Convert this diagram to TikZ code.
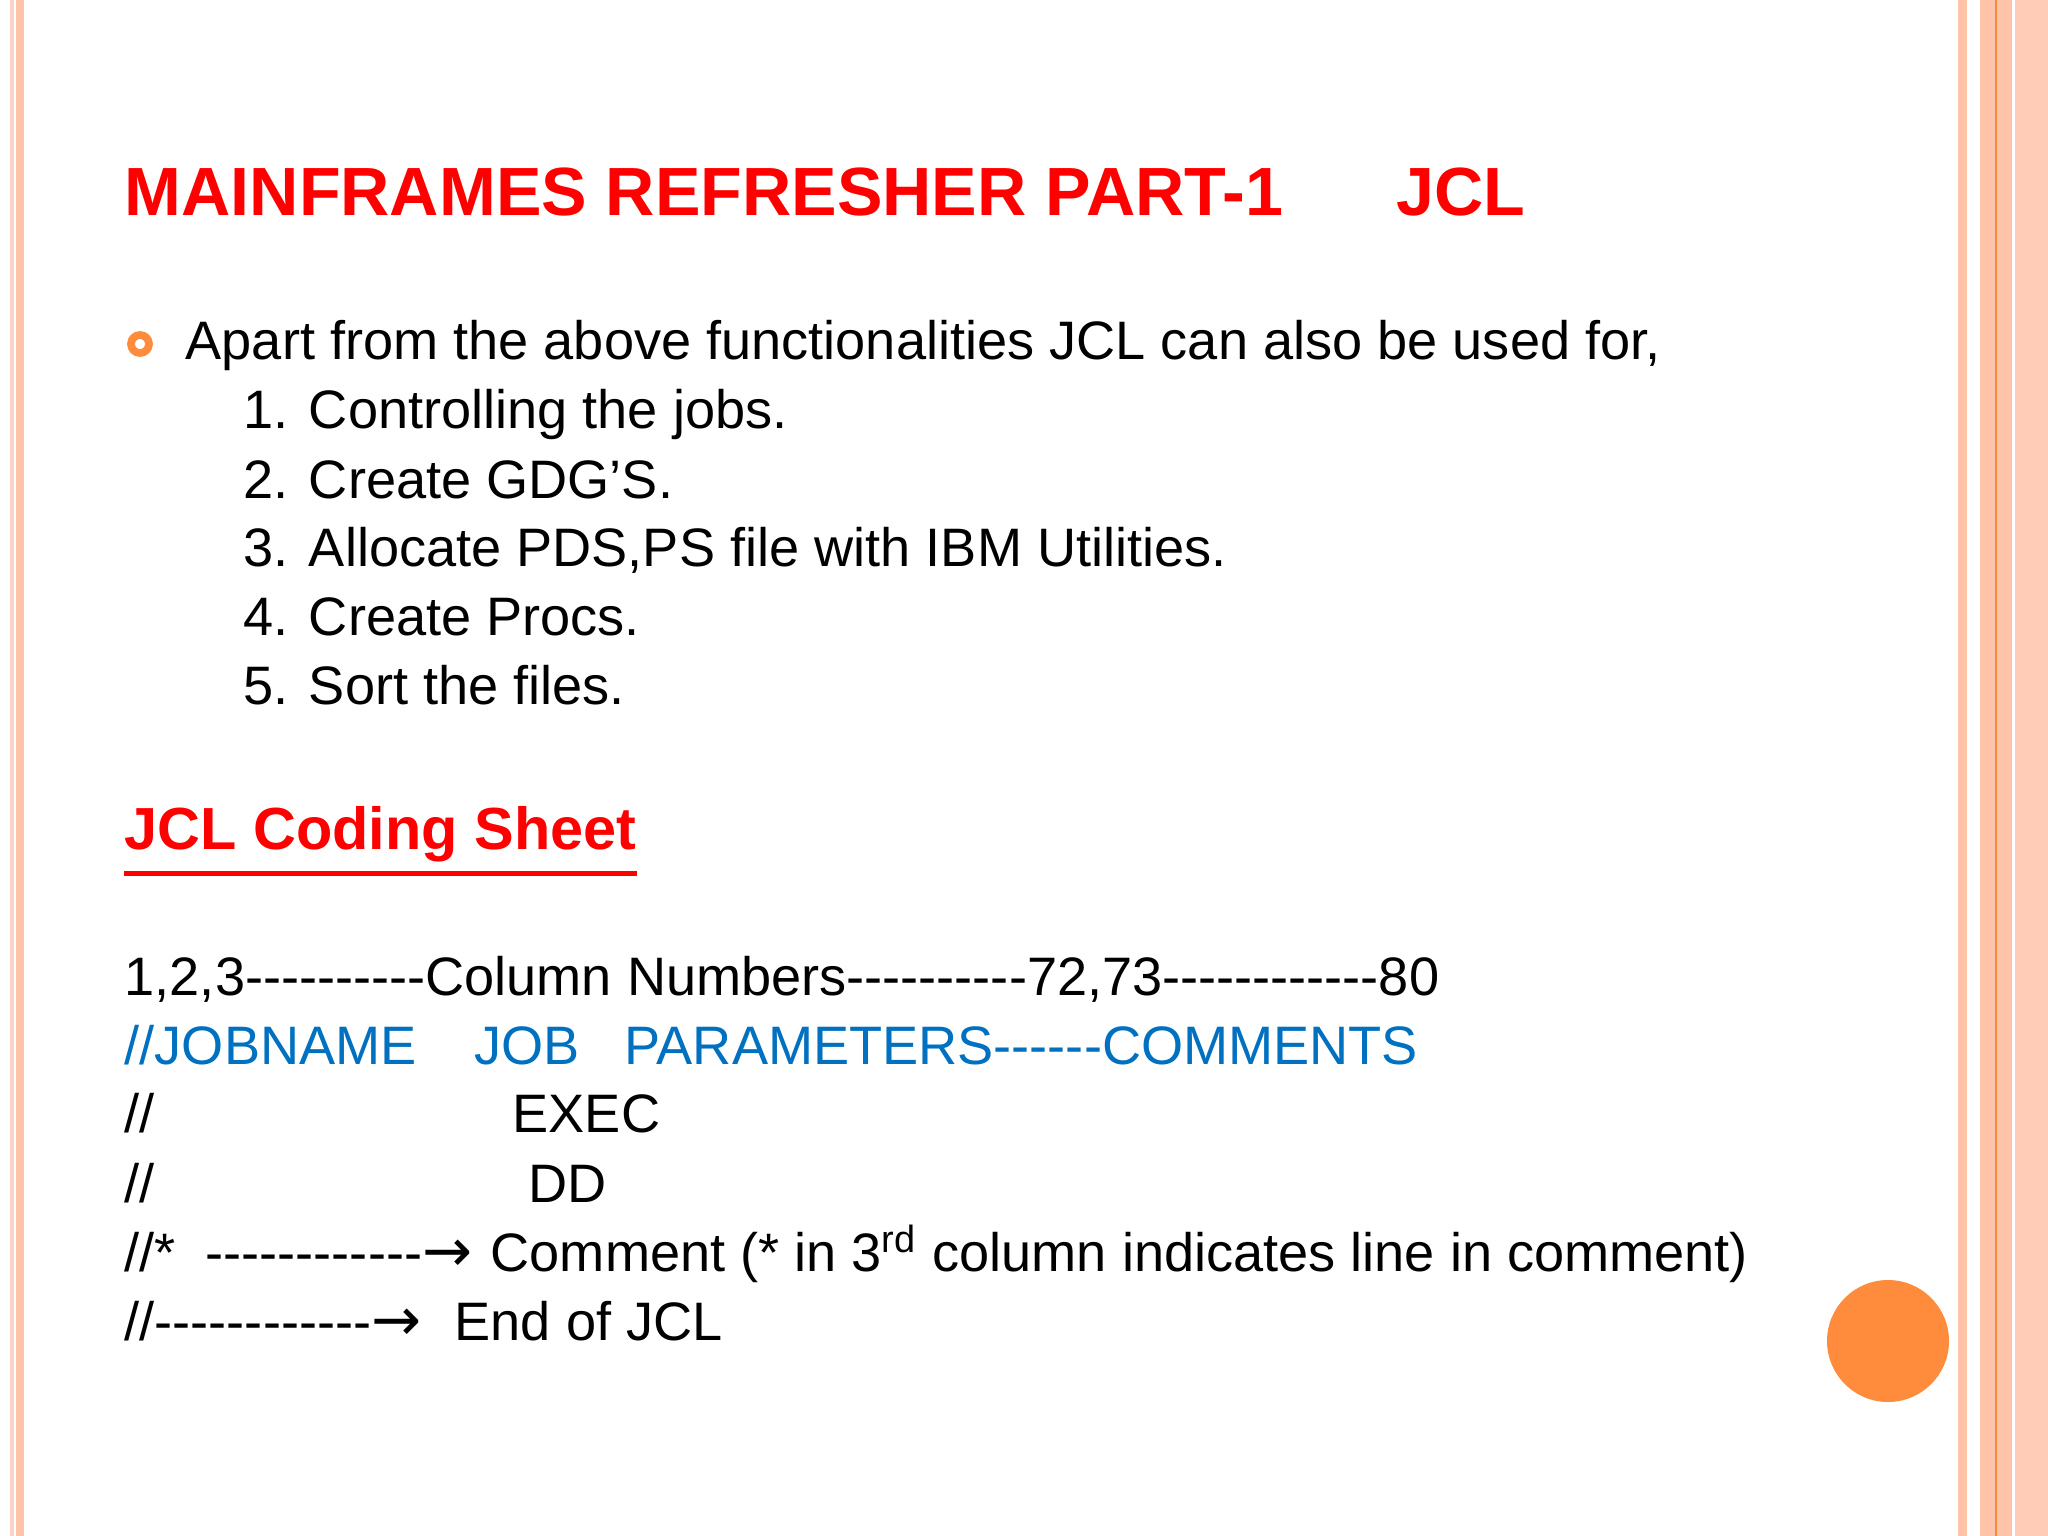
\documentclass[tikz,border=0pt]{standalone}
\usepackage{fontspec}
\setmainfont{Liberation Sans}[Ligatures=TeXOff]
\newfontfamily\dv{DejaVu Sans}
\definecolor{salmon}{RGB}{255,195,170}
\definecolor{lsalmon}{RGB}{250,210,200}
\definecolor{titlered}{RGB}{255,0,0}
\definecolor{jblue}{RGB}{0,112,192}
\definecolor{dorange}{RGB}{255,140,60}
\definecolor{borange}{RGB}{240,140,60}
\tikzset{x=0.01cm,y=-0.01cm,
 txt/.style={anchor=base west,inner sep=0pt,font=\fontsize{15.4}{18}\selectfont},
 ttl/.style={anchor=base west,inner sep=0pt,font=\fontsize{19.4}{23}\selectfont\bfseries,text=titlered}}
\newcommand{\arr}{{\dv\fontsize{17}{18}\selectfont →}}
\begin{document}
\begin{tikzpicture}
\useasboundingbox (0,0) rectangle (2048,1536);
\fill[white] (0,0) rectangle (2048,1536);
% left border
\fill[lsalmon] (10,0) rectangle (14,1536);
\fill[salmon] (16,0) rectangle (24,1536);
% right border
\fill[salmon] (1958,0) rectangle (1967,1536);
\fill[salmon] (1980,0) rectangle (2012,1536);
\fill[borange] (1995,0) rectangle (1997,1536);
\fill[salmon!85!white] (2015,0) rectangle (2048,1536);
% title
\node[ttl] (t1) at (124,215) {MAINFRAMES REFRESHER PART-1};
\node[ttl] (t2) at (1396,215) {JCL};
% bullet
\draw[dorange,line width=2.2pt] (140,344) circle (9);
\node[txt] (b0) at (185,359) {Apart from the above functionalities JCL can also be used for,};
\node[txt] (b1) at (243,428) {1. Controlling the jobs.};
\node[txt] (b2) at (243,498) {2. Create GDG’S.};
\node[txt] (b3) at (243,566) {3. Allocate PDS,PS file with IBM Utilities.};
\node[txt] (b4) at (243,635) {4. Create Procs.};
\node[txt] (b5) at (243,704) {5. Sort the files.};
\node[txt,text=titlered,font=\fontsize{16.9}{20}\selectfont\bfseries] (cs) at (124,849) {JCL Coding Sheet};
\draw[titlered,line width=1.6pt] ([yshift=-7]cs.base west) -- ([yshift=-7]cs.base east);
% code lines
\node[txt] (c1) at (124,995) {1,2,3----------Column Numbers----------72,73------------80};
\node[txt,text=jblue] (c2a) at (124,1064) {//JOBNAME};
\node[txt,text=jblue] (c2b) at (474,1064) {JOB};
\node[txt,text=jblue] (c2c) at (624,1064) {PARAMETERS------COMMENTS};
\node[txt] (c3a) at (124,1132) {//};
\node[txt] (c3b) at (512,1132) {EXEC};
\node[txt] (c4a) at (124,1202) {//};
\node[txt] (c4b) at (528,1202) {DD};
\node[txt] (c5a) at (124,1271) {//*};
\node[txt] (c5b) at (205,1271) {------------\arr};
\node[txt] (c5c) at (490,1271) {Comment (* in 3\textsuperscript{rd} column indicates line in comment)};
\node[txt] (c6a) at (124,1340) {//------------\arr};
\node[txt] (c6b) at (454,1340) {End of JCL};
% circle
\fill[dorange] (1888,1341) circle (61);
\end{tikzpicture}
\end{document}
